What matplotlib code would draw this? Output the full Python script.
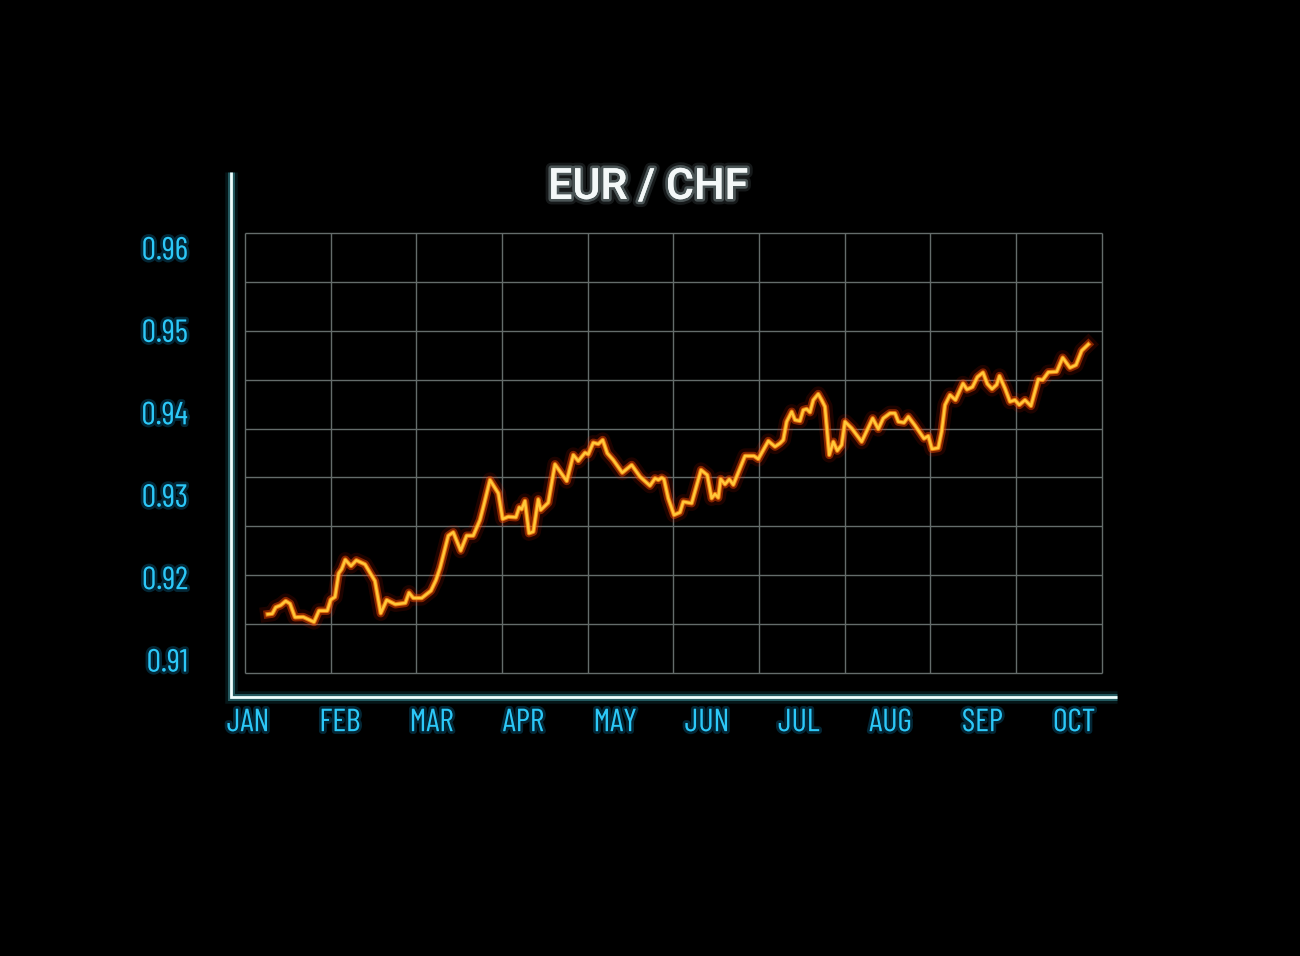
import numpy as np
import matplotlib
matplotlib.use("Agg")
import matplotlib.pyplot as plt
import matplotlib.patheffects as pe

# month labels, placed at 0..9 along the x axis
months = ["JAN", "FEB", "MAR", "APR", "MAY", "JUN", "JUL", "AUG", "SEP", "OCT"]
rate_ticks = [0.91, 0.92, 0.93, 0.94, 0.95, 0.96]

# EUR/CHF series (x in months since JAN label)
t = [0.215, 0.265, 0.302, 0.356, 0.411, 0.458, 0.512, 0.602, 0.719, 0.773,
     0.864, 0.901, 0.948, 0.988, 1.021, 1.060, 1.122, 1.180, 1.275, 1.383,
     1.446, 1.511, 1.605, 1.714, 1.754, 1.801, 1.892, 1.993, 2.048, 2.092,
     2.182, 2.236, 2.317, 2.382, 2.454, 2.527, 2.574, 2.636, 2.727, 2.774,
     2.836, 2.919, 2.955, 2.981, 3.017, 3.061, 3.108, 3.162, 3.188, 3.271,
     3.344, 3.472, 3.544, 3.598, 3.671, 3.707, 3.761, 3.816, 3.864, 3.914,
     3.979, 4.077, 4.180, 4.270, 4.379, 4.434, 4.470, 4.507, 4.532, 4.578,
     4.641, 4.706, 4.742, 4.833, 4.935, 5.003, 5.051, 5.087, 5.123, 5.149,
     5.196, 5.243, 5.287, 5.414, 5.512, 5.559, 5.668, 5.741, 5.795, 5.831,
     5.868, 5.923, 5.959, 6.013, 6.049, 6.086, 6.122, 6.158, 6.212, 6.249,
     6.285, 6.332, 6.376, 6.419, 6.467, 6.503, 6.576, 6.685, 6.805, 6.866,
     6.920, 6.993, 7.048, 7.084, 7.146, 7.193, 7.266, 7.364, 7.411, 7.451,
     7.519, 7.556, 7.593, 7.647, 7.707, 7.789, 7.832, 7.892, 7.946, 8.007,
     8.054, 8.105, 8.156, 8.186, 8.246, 8.301, 8.355, 8.402, 8.464, 8.529,
     8.609, 8.657, 8.718, 8.810, 8.875, 8.954, 9.020, 9.082, 9.154]
rate = [0.91555, 0.91562, 0.91640, 0.91664, 0.91716, 0.91683, 0.91518, 0.91522, 0.91461, 0.91598,
        0.91598, 0.91732, 0.91765, 0.92052, 0.92104, 0.92217, 0.92141, 0.92210, 0.92161, 0.91959,
        0.91567, 0.91728, 0.91676, 0.91692, 0.91817, 0.91752, 0.91752, 0.91841, 0.91971, 0.92117,
        0.92509, 0.92550, 0.92327, 0.92509, 0.92509, 0.92699, 0.92902, 0.93185, 0.93023, 0.92711,
        0.92739, 0.92732, 0.92853, 0.92829, 0.92930, 0.92538, 0.92557, 0.92950, 0.92820, 0.92909,
        0.93375, 0.93172, 0.93488, 0.93415, 0.93516, 0.93496, 0.93637, 0.93621, 0.93670, 0.93509,
        0.93427, 0.93273, 0.93367, 0.93225, 0.93115, 0.93205, 0.93185, 0.93212, 0.93193, 0.92962,
        0.92760, 0.92792, 0.92921, 0.92902, 0.93306, 0.93245, 0.92962, 0.93015, 0.92970, 0.93197,
        0.93132, 0.93193, 0.93127, 0.93476, 0.93476, 0.93439, 0.93658, 0.93589, 0.93630, 0.93670,
        0.93892, 0.94013, 0.93913, 0.93901, 0.94034, 0.94046, 0.94006, 0.94155, 0.94228, 0.94155,
        0.94074, 0.93488, 0.93649, 0.93540, 0.93609, 0.93892, 0.93812, 0.93649, 0.93933, 0.93803,
        0.93933, 0.93994, 0.93994, 0.93892, 0.93880, 0.93953, 0.93846, 0.93687, 0.93718, 0.93561,
        0.93573, 0.93771, 0.94095, 0.94216, 0.94155, 0.94356, 0.94283, 0.94313, 0.94435, 0.94489,
        0.94350, 0.94289, 0.94341, 0.94447, 0.94297, 0.94135, 0.94155, 0.94095, 0.94155, 0.94083,
        0.94407, 0.94398, 0.94492, 0.94499, 0.94669, 0.94547, 0.94580, 0.94754, 0.94831]

narrow = ["Barlow Condensed", "Roboto Condensed", "Archivo Narrow", "DejaVu Sans"]

fig = plt.figure(figsize=(13, 9.56), dpi=100, facecolor="black")
ax = fig.add_axes([0.1777, 0.2709, 0.6815, 0.5492], facecolor="black")
ax.set_xlim(-0.185, 9.466)
ax.set_ylim(0.90551, 0.96922)

# background grid box (decorative, not tied to tick values)
gx = np.linspace(-0.033, 9.30, 11)
gy = np.linspace(0.90842, 0.96182, 10)
ax.vlines(gx, gy[0], gy[-1], color="#646c6b", lw=1.0, zorder=1)
ax.hlines(gy, gx[0], gx[-1], color="#646c6b", lw=1.0, zorder=1)

# glowing line
ax.plot(t, rate, color="#ffc83a", lw=1.8, zorder=3, solid_joinstyle="round",
        path_effects=[pe.Stroke(linewidth=11, foreground="#ff2000", alpha=0.12),
                      pe.Stroke(linewidth=6, foreground="#ff4a00", alpha=0.45),
                      pe.Stroke(linewidth=3.2, foreground="#ff8a10", alpha=0.8),
                      pe.Normal()])

# glowing L-shaped axis lines
for s in ax.spines.values():
    s.set_visible(False)
ax.plot([0, 0, 1], [1, 0, 0], transform=ax.transAxes, clip_on=False,
        color="#effefe", lw=2.0, solid_capstyle="butt", solid_joinstyle="miter", zorder=4,
        path_effects=[pe.Stroke(linewidth=9, foreground="#2fb8cc", alpha=0.12),
                      pe.Stroke(linewidth=5, foreground="#5fd8e6", alpha=0.35),
                      pe.Normal()])

glow = [pe.withStroke(linewidth=4, foreground="#0b6f99", alpha=0.35)]
ax.set_yticks(rate_ticks)
ax.set_yticklabels([f"{v:.2f}" for v in rate_ticks])
ax.set_xticks(range(len(months)))
ax.set_xticklabels(months)
ax.tick_params(axis="y", length=0, pad=31, labelsize=23, labelcolor="#2cc8f8")
ax.tick_params(axis="x", length=0, pad=8, labelsize=23, labelcolor="#2cc8f8")
for lab in ax.get_xticklabels() + ax.get_yticklabels():
    lab.set_family(narrow)
    lab.set_path_effects(glow)

fig.text(0.4985, 0.804, "EUR / CHF", color="#f4f8f8", fontsize=31, family="Roboto",
         weight="medium", ha="center", va="center",
         path_effects=[pe.withStroke(linewidth=8, foreground="#b8d4d8", alpha=0.12),
                       pe.withStroke(linewidth=4, foreground="#c8e0e4", alpha=0.3)])

fig.savefig("out.png", dpi=100, facecolor="black")
